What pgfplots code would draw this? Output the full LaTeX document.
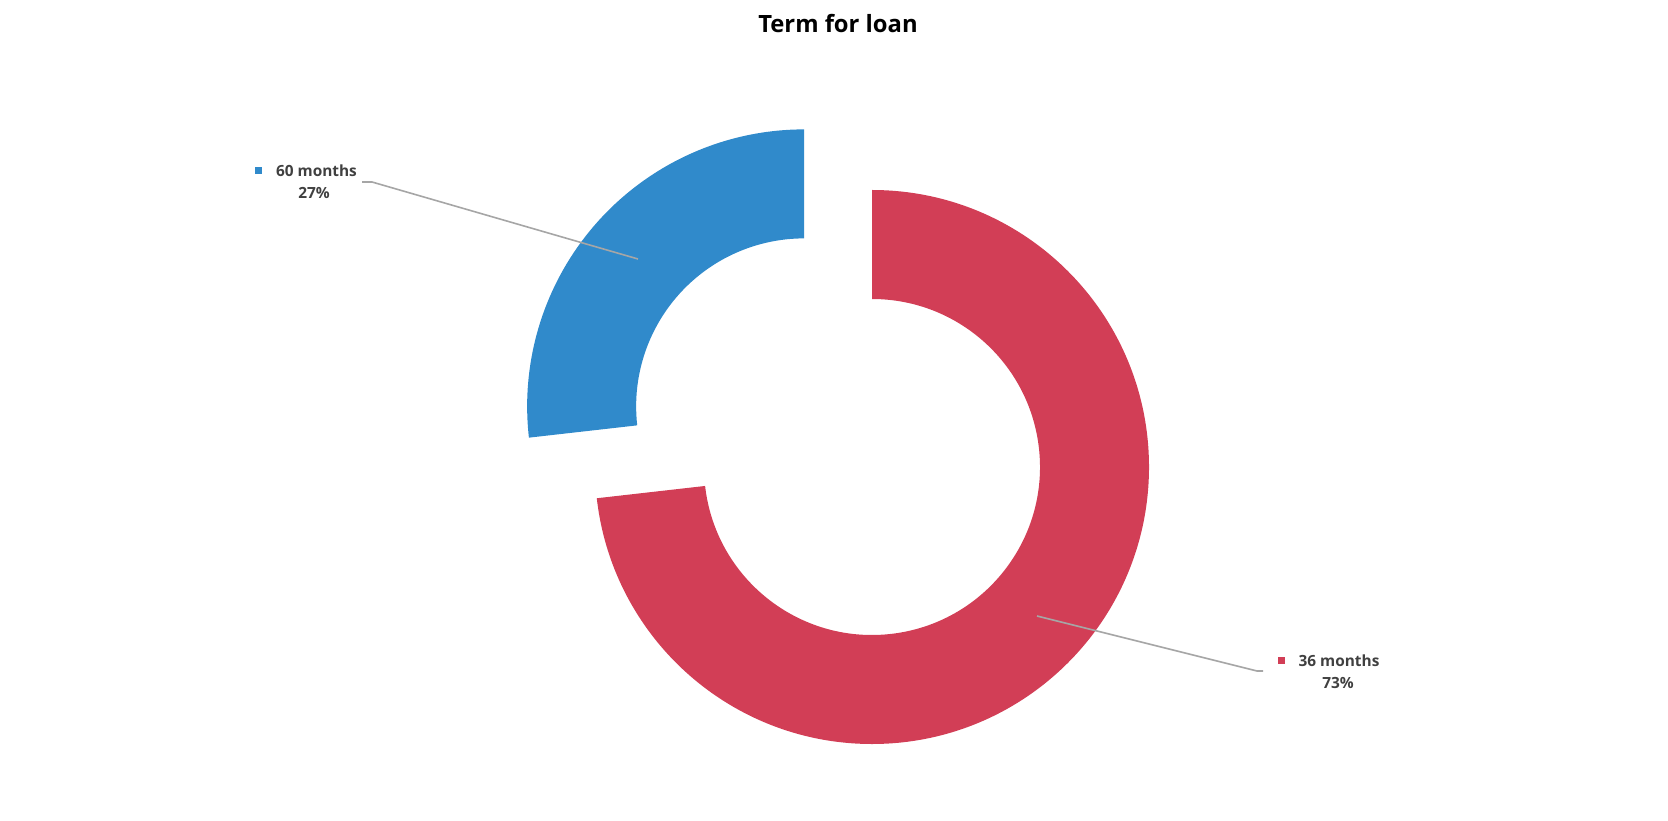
\documentclass[border=0pt]{standalone}
\usepackage{fontspec}
\setmainfont{Open Sans}
\usepackage{pgfplots}
\usepackage{pgfplotstable}
\pgfplotsset{compat=1.18}
\definecolor{c36}{HTML}{D23E56}
\definecolor{c60}{HTML}{308ACB}
\definecolor{lblgray}{HTML}{404040}
\definecolor{leader}{HTML}{A6A6A6}
\pgfplotstableread{
term value
36 73.2
60 26.8
}\termdata
\pgfplotstablegetelem{0}{value}\of\termdata \let\redV\pgfplotsretval
\pgfplotstablegetelem{1}{value}\of\termdata \let\blueV\pgfplotsretval
\pgfmathsetmacro\redEnd{90-\redV*3.6}
\pgfmathsetmacro\redBack{\redEnd+180}
\pgfmathsetmacro\blueEnd{90+\blueV*3.6}
\pgfmathsetmacro\blueBack{\blueEnd+180}
\pgfmathsetmacro\blueMid{90+\blueV*1.8}
\begin{document}
\begin{tikzpicture}
\begin{axis}[width=834pt,height=410pt,scale only axis,
  xmin=0,xmax=1668,ymin=0,ymax=820,hide axis,clip=false]
\path (axis cs:0,0) rectangle (axis cs:1668,820);
% 36 months slice
\fill[c36] (axis cs:872,353) ++(90:138.5pt)
  arc[start angle=90,end angle=\redEnd,radius=138.5pt]
  -- ++(\redBack:54.5pt)
  arc[start angle=\redEnd,end angle=90,radius=84pt] -- cycle;
% 60 months slice (exploded)
\fill[c60] (axis cs:872,353) ++(\blueMid:45.5pt) ++(90:138.5pt)
  arc[start angle=90,end angle=\blueEnd,radius=138.5pt]
  -- ++(\blueBack:54.5pt)
  arc[start angle=\blueEnd,end angle=90,radius=84pt] -- cycle;
% leader lines
\draw[leader,line width=0.8pt] (axis cs:638,561) -- (axis cs:372,638) -- (axis cs:362,638);
\draw[leader,line width=0.8pt] (axis cs:1037,204) -- (axis cs:1257,149) -- (axis cs:1263,149);
% labels
\fill[c60] (axis cs:258.5,649.5) +(-1.75pt,-1.75pt) rectangle +(1.75pt,1.75pt);
\node[anchor=base,inner sep=0pt,text=lblgray,font=\bfseries\fontsize{7.7}{9}\selectfont] at (axis cs:316.5,643) {60 months};
\node[anchor=base,inner sep=0pt,text=lblgray,font=\bfseries\fontsize{7.7}{9}\selectfont] at (axis cs:314,621) {27\%};
\fill[c36] (axis cs:1281.5,160) +(-1.75pt,-1.75pt) rectangle +(1.75pt,1.75pt);
\node[anchor=base,inner sep=0pt,text=lblgray,font=\bfseries\fontsize{7.7}{9}\selectfont] at (axis cs:1339,154) {36 months};
\node[anchor=base,inner sep=0pt,text=lblgray,font=\bfseries\fontsize{7.7}{9}\selectfont] at (axis cs:1338,132) {73\%};
% title
\node[anchor=base,inner sep=0pt,text=black,font=\bfseries\fontsize{11.9}{14}\selectfont] at (axis cs:838,787) {Term for loan};
\end{axis}
\end{tikzpicture}
\end{document}
